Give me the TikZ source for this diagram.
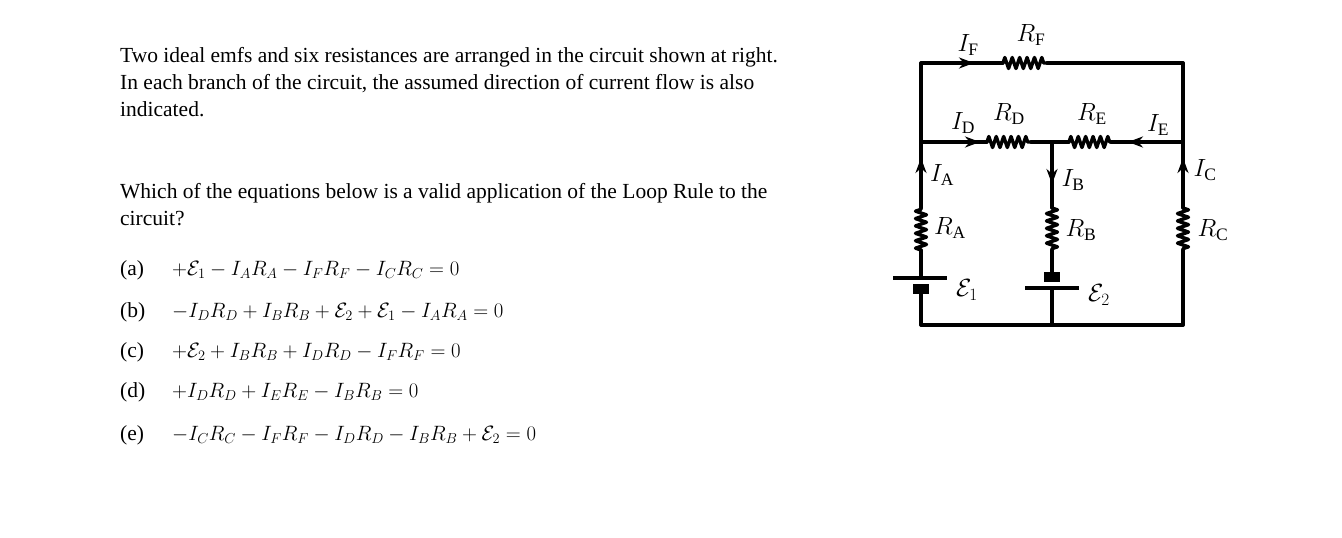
\documentclass[tikz,border=0pt]{standalone}
\usepackage{amsmath}
\usepackage{fontspec}
\setmainfont{Liberation Serif}
\usetikzlibrary{arrows.meta,decorations.pathmorphing}
\begin{document}
\begin{tikzpicture}[x=1pt,y=-1pt,
  wire/.style={line width=3.4pt,line cap=round,line join=round},
  res/.style={wire,decorate,decoration={zigzag,segment length=7.4pt,amplitude=5.5pt}},
  arr/.style={-{Stealth[length=15pt,width=11pt]},line width=3.4pt},
  lab/.style={font=\fontsize{25}{26}\selectfont,inner sep=0pt},
  txt/.style={font=\fontsize{21.5}{27}\selectfont,anchor=base west,inner sep=0pt},
  eq/.style={font=\fontsize{22.5}{27}\selectfont,anchor=base west,inner sep=0pt}]
\useasboundingbox (0,0) rectangle (1342,538);
% coordinates
\coordinate (TL) at (921,63); \coordinate (TR) at (1183,63);
\coordinate (ML) at (921,142); \coordinate (MM) at (1052,142); \coordinate (MR) at (1183,142);
\coordinate (BL) at (921,325); \coordinate (BM) at (1052,325); \coordinate (BR) at (1183,325);
% top branch
\draw[wire] (TL) -- (1003,63); \draw[res] (1003,63) -- (1047,63); \draw[wire] (1047,63) -- (TR);
% middle branch
\draw[wire] (ML) -- (987,142); \draw[res] (987,142) -- (1031,142); \draw[wire] (1031,142) -- (1069,142);
\draw[res] (1069,142) -- (1111,142); \draw[wire] (1111,142) -- (MR);
% left
\draw[wire] (BL) -- (921,290); \draw[wire] (921,278) -- (921,250);
\draw[res] (921,250) -- (921,208); \draw[wire] (921,208) -- (TL);
\draw[line width=3.4pt] (893,278) -- (947,278);
\fill (913,284) rectangle (929,294);
% middle vertical
\draw[wire] (MM) -- (1052,208); \draw[res] (1052,208) -- (1052,250); \draw[wire] (1052,250) -- (1052,275);
\fill (1044,272) rectangle (1060,282);
\draw[line width=3.4pt] (1025,288) -- (1079,288);
\draw[wire] (1052,288) -- (BM);
% right
\draw[wire] (TR) -- (1183,208); \draw[res] (1183,208) -- (1183,250); \draw[wire] (1183,250) -- (BR);
% bottom
\draw[wire] (BL) -- (BR);
% arrows
\draw[arr] (950,63) -- (974,63);
\draw[arr] (956,142) -- (980,142);
\draw[arr] (1152,142) -- (1128,142);
\draw[arr] (921,182) -- (921,158);
\draw[arr] (1052,158) -- (1052,184);
\draw[arr] (1183,182) -- (1183,158);
% labels
\node[lab] (lIF) at (968,45) {$I_{\mathrm{F}}$};
\node[lab] (lRF) at (1031,35) {$R_{\mathrm{F}}$};
\node[lab] (lID) at (963,123) {$I_{\mathrm{D}}$};
\node[lab] (lRD) at (1009,114) {$R_{\mathrm{D}}$};
\node[lab] (lRE) at (1092,114) {$R_{\mathrm{E}}$};
\node[lab] (lIE) at (1158,125) {$I_{\mathrm{E}}$};
\node[lab] (lIA) at (942,175) {$I_{\mathrm{A}}$};
\node[lab] (lIB) at (1073,180) {$I_{\mathrm{B}}$};
\node[lab] (lIC) at (1205,170) {$I_{\mathrm{C}}$};
\node[lab] (lRA) at (950,228) {$R_{\mathrm{A}}$};
\node[lab] (lRB) at (1081,230) {$R_{\mathrm{B}}$};
\node[lab] (lRC) at (1213,230) {$R_{\mathrm{C}}$};
\node[lab] (lE1) at (967,290) {$\mathcal{E}_1$};
\node[lab] (lE2) at (1099,295) {$\mathcal{E}_2$};
% text
\node[txt] (t1a) at (120,62) {Two ideal emfs and six resistances are arranged in the circuit shown at right.};
\node[txt] (t1b) at (120,89) {In each branch of the circuit, the assumed direction of current flow is also};
\node[txt] (t1c) at (120,116) {indicated.};
\node[txt] (t2a) at (120,198) {Which of the equations below is a valid application of the Loop Rule to the};
\node[txt] (t2b) at (120,225) {circuit?};
\node[txt] (oa) at (120,275) {(a)};
\node[eq] (ea) at (172,275) {$+\mathcal{E}_1-I_AR_A-I_FR_F-I_CR_C=0$};
\node[txt] (ob) at (120,317) {(b)};
\node[eq] (eb) at (172,317) {$-I_DR_D+I_BR_B+\mathcal{E}_2+\mathcal{E}_1-I_AR_A=0$};
\node[txt] (oc) at (120,357) {(c)};
\node[eq] (ec) at (172,357) {$+\mathcal{E}_2+I_BR_B+I_DR_D-I_FR_F=0$};
\node[txt] (od) at (120,397) {(d)};
\node[eq] (ed) at (172,397) {$+I_DR_D+I_ER_E-I_BR_B=0$};
\node[txt] (oe) at (120,440) {(e)};
\node[eq] (ee) at (172,440) {$-I_CR_C-I_FR_F-I_DR_D-I_BR_B+\mathcal{E}_2=0$};
\end{tikzpicture}
\end{document}
